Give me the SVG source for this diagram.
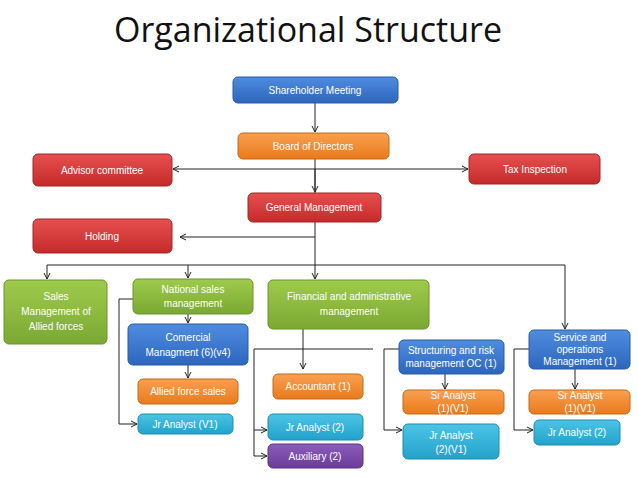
<svg xmlns="http://www.w3.org/2000/svg" width="638" height="479" viewBox="0 0 638 479">
<style>
.n rect{stroke-width:1;rx:5}
.n text{font-family:"Liberation Sans",Arial,sans-serif;font-size:10px;fill:#fff;text-anchor:middle}
.blue rect{fill:url(#gb);stroke:#2a5aa0}
.orange rect{fill:url(#go);stroke:#c06a18}
.red rect{fill:url(#gr);stroke:#a02424}
.green rect{fill:url(#gg);stroke:#6a9428}
.cyan rect{fill:url(#gc);stroke:#1f8cad}
.purple rect{fill:url(#gp);stroke:#5a3380}
#conn path{fill:none;stroke:#222;stroke-width:1;marker-end:url(#ah)}
#conn path.nm{marker-end:none}
</style>
<defs>
<linearGradient id="gb" x1="0" y1="0" x2="0" y2="1"><stop offset="0" stop-color="#4f8de0"/><stop offset="1" stop-color="#2d66bd"/></linearGradient>
<linearGradient id="go" x1="0" y1="0" x2="0" y2="1"><stop offset="0" stop-color="#f9a050"/><stop offset="1" stop-color="#e97a1c"/></linearGradient>
<linearGradient id="gr" x1="0" y1="0" x2="0" y2="1"><stop offset="0" stop-color="#e75050"/><stop offset="1" stop-color="#c52a2a"/></linearGradient>
<linearGradient id="gg" x1="0" y1="0" x2="0" y2="1"><stop offset="0" stop-color="#9fcb4c"/><stop offset="1" stop-color="#7aa832"/></linearGradient>
<linearGradient id="gc" x1="0" y1="0" x2="0" y2="1"><stop offset="0" stop-color="#4cc4e6"/><stop offset="1" stop-color="#22a2cb"/></linearGradient>
<linearGradient id="gp" x1="0" y1="0" x2="0" y2="1"><stop offset="0" stop-color="#8c5cbc"/><stop offset="1" stop-color="#6a3c98"/></linearGradient>
<marker id="ah" markerWidth="8" markerHeight="8" refX="7" refY="4" orient="auto" markerUnits="userSpaceOnUse"><path d="M1,1 L7,4 L1,7" fill="none" stroke="#222" stroke-width="1"/></marker>
</defs>
<rect width="638" height="479" fill="#fff"/>
<text x="308" y="42" font-family="Open Sans,'Liberation Sans',sans-serif" font-size="34" text-anchor="middle" fill="#111">Organizational Structure</text>
<g id="conn">
<path d="M315,103 V132"/>
<path d="M315,159 V192"/>
<path class="nm" d="M315,169 V265"/>
<path d="M315,169 H173"/>
<path d="M315,169 H468"/>
<path d="M315,237 H180"/>
<path class="nm" d="M47,265 H565"/>
<path d="M47,265 V279"/>
<path d="M188,265 V278"/>
<path d="M315,265 V279"/>
<path d="M565,265 V329"/>
<path d="M188,314 V323"/>
<path d="M188,365 V378"/>
<path d="M133,299 H119 V424 H137"/>
<path d="M303,329 V369"/>
<path d="M373,349 H254 V430 H267"/>
<path d="M254,430 V456 H267"/>
<path d="M399,349 H384 V430 H402"/>
<path d="M445,374 V389"/>
<path d="M529,349 H514 V430 H533"/>
<path d="M575,369 V389"/>
</g>
<g id="shareholder" class="n blue"><rect x="233" y="77" width="165" height="26"/><text x="315" y="94">Shareholder Meeting</text></g>
<g id="board" class="n orange"><rect x="238" y="133" width="151" height="26"/><text x="313" y="150">Board of Directors</text></g>
<g id="advisor" class="n red"><rect x="33" y="154" width="139" height="32"/><text x="102" y="174">Advisor committee</text></g>
<g id="tax" class="n red"><rect x="469" y="154" width="131" height="30"/><text x="535" y="173">Tax Inspection</text></g>
<g id="general" class="n red"><rect x="248" y="193" width="133" height="29"/><text x="314" y="211">General Management</text></g>
<g id="holding" class="n red"><rect x="33" y="219" width="139" height="34"/><text x="102" y="240">Holding</text></g>
<g id="sales" class="n green"><rect x="4" y="280" width="103" height="64"/><text x="56" y="300">Sales</text><text x="56" y="315">Management of</text><text x="56" y="330">Allied forces</text></g>
<g id="national" class="n green"><rect x="133" y="279" width="120" height="35"/><text x="193" y="293">National sales</text><text x="193" y="307">management</text></g>
<g id="financial" class="n green"><rect x="268" y="280" width="161" height="49"/><text x="349" y="300">Financial and administrative</text><text x="349" y="315">management</text></g>
<g id="comercial" class="n blue"><rect x="128" y="324" width="120" height="41"/><text x="188" y="341">Comercial</text><text x="188" y="356">Managment (6)(v4)</text></g>
<g id="allied" class="n orange"><rect x="138" y="379" width="100" height="25"/><text x="188" y="395">Allied force sales</text></g>
<g id="jrv1" class="n cyan"><rect x="138" y="414" width="95" height="20"/><text x="185" y="428">Jr Analyst (V1)</text></g>
<g id="accountant" class="n orange"><rect x="273" y="374" width="90" height="25"/><text x="318" y="390">Accountant (1)</text></g>
<g id="jr2a" class="n cyan"><rect x="268" y="414" width="95" height="26"/><text x="315" y="431">Jr Analyst (2)</text></g>
<g id="auxiliary" class="n purple"><rect x="268" y="444" width="95" height="24"/><text x="315" y="460">Auxiliary (2)</text></g>
<g id="structuring" class="n blue"><rect x="399" y="340" width="105" height="34"/><text x="451" y="354" font-size="9">Structuring and risk</text><text x="451" y="367" font-size="9">management OC (1)</text></g>
<g id="sr1" class="n orange"><rect x="403" y="390" width="101" height="24"/><text x="453" y="399">Sr Analyst</text><text x="453" y="412">(1)(V1)</text></g>
<g id="jr2v1" class="n cyan"><rect x="403" y="424" width="96" height="35"/><text x="451" y="439">Jr Analyst</text><text x="451" y="453">(2)(V1)</text></g>
<g id="service" class="n blue"><rect x="529" y="330" width="101" height="39"/><text x="580" y="341" font-size="9">Service and</text><text x="580" y="353" font-size="9">operations</text><text x="580" y="365" font-size="9">Management (1)</text></g>
<g id="sr2" class="n orange"><rect x="529" y="390" width="101" height="24"/><text x="580" y="399">Sr Analyst</text><text x="580" y="412">(1)(V1)</text></g>
<g id="jr2b" class="n cyan"><rect x="534" y="420" width="86" height="25"/><text x="577" y="436">Jr Analyst (2)</text></g>
</svg>
